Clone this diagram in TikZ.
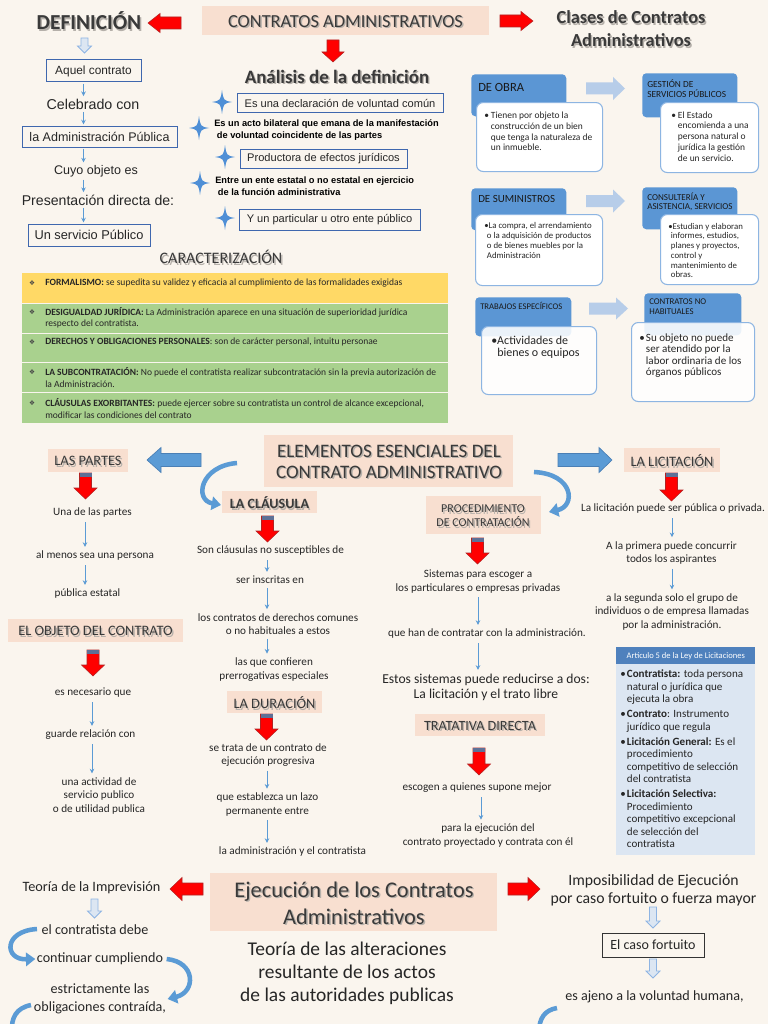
\documentclass[tikz,border=0pt]{standalone}
\usepackage{fontspec}
\setmainfont{Carlito}
\newfontfamily\arialf{Liberation Sans}
\newfontfamily\djv{DejaVu Sans}
\usetikzlibrary{arrows.meta}
\definecolor{bg}{HTML}{FAF5EE}
\definecolor{peach}{HTML}{F8DFD0}
\definecolor{redA}{HTML}{FF0000}
\definecolor{redB}{HTML}{B22222}
\definecolor{band}{HTML}{5E7096}
\definecolor{bigblue}{HTML}{5B9BD5}
\definecolor{bigblueD}{HTML}{4A7FB5}
\definecolor{thinblue}{HTML}{5B9BD5}
\definecolor{paleblue}{HTML}{DCE6F2}
\definecolor{paleblueD}{HTML}{8EB4E3}
\definecolor{lightarrc}{HTML}{B7CDE9}
\definecolor{tabblue}{HTML}{5B96D4}
\definecolor{boxline}{HTML}{8DB5E2}
\definecolor{defline}{HTML}{3F67AE}
\definecolor{yellowrow}{HTML}{FFD966}
\definecolor{greenrow}{HTML}{A9D18E}
\definecolor{arthead}{HTML}{4F81BD}
\definecolor{artbody}{HTML}{DCE6F2}
\definecolor{ink}{HTML}{262626}
\definecolor{shd}{HTML}{B5B0AA}
\definecolor{titleink}{HTML}{3A3A3A}
\definecolor{starblue}{HTML}{4F8FD6}
\newcommand\fs[2]{\fontsize{#1}{#2}\selectfont}
\newcommand\shtext[4]{%
  \node[#3, text=shd] at ([shift={(1.4,1.4)}]#2) {#4};
  \node[#3] (#1) at (#2) {#4};}
\newcommand\blockdown[7]{\filldraw[#1] (#2-#5,#3) -- (#2+#5,#3) -- (#2+#5,#4-#7) -- (#2+#6,#4-#7) -- (#2,#4) -- (#2-#6,#4-#7) -- (#2-#5,#4-#7) -- cycle;}
\newcommand\blockright[7]{\filldraw[#1] (#2,#4-#5) -- (#3-#7,#4-#5) -- (#3-#7,#4-#6) -- (#3,#4) -- (#3-#7,#4+#6) -- (#3-#7,#4+#5) -- (#2,#4+#5) -- cycle;}
\newcommand\blockleft[7]{\filldraw[#1] (#2,#4-#5) -- (#3+#7,#4-#5) -- (#3+#7,#4-#6) -- (#3,#4) -- (#3+#7,#4+#6) -- (#3+#7,#4+#5) -- (#2,#4+#5) -- cycle;}
\newcommand\rdarrow[3]{\blockdown{redarr}{#1}{#2}{#3}{6}{11.5}{11}\fill[band] (#1-6,#2) rectangle (#1+6,#2+4);}
\newcommand\hollowdown[3]{\blockdown{hollowarr}{#1}{#2}{#3}{3.5}{7}{7}}
\newcommand\fstar[2]{\fill[starblue] (#1,#2-12) .. controls (#1+1.5,#2-1.5) .. (#1+10,#2) .. controls (#1+1.5,#2+1.5) .. (#1,#2+12) .. controls (#1-1.5,#2+1.5) .. (#1-10,#2) .. controls (#1-1.5,#2-1.5) .. (#1,#2-12) -- cycle;}
\newcommand\bu{\makebox[5pt][l]{•}}
\newcommand\ind{\hspace*{5pt}}
\tikzset{
  x=0.75pt, y=-0.75pt,
  txt/.style={font=\fs{8.4}{10.1}, text=ink, align=center, inner sep=1pt},
  ttl/.style={text=titleink, align=center, inner sep=0pt},
  thinarr/.style={draw=thinblue, line width=0.6pt, -{Stealth[length=3.5pt,width=3.4pt]}, shorten <=2pt, shorten >=2pt},
  pbox/.style={fill=peach, inner sep=0pt},
  defbox/.style={draw=defline, line width=0.75pt, inner sep=0pt, text=ink},
  deftxt/.style={text=ink, inner sep=1pt},
  boldtxt/.style={font=\arialf\bfseries\fs{6.95}{9}, align=left, text=black, inner sep=0pt, anchor=west},
  tabbox/.style={fill=tabblue, rounded corners=3pt, inner sep=0pt, anchor=north west},
  wbox/.style={fill=white, draw=boxline, line width=0.8pt, rounded corners=5pt, inner sep=0pt, anchor=north west},
  tabtxt/.style={text=black!90, align=left, inner sep=0pt, anchor=west},
  bultxt/.style={text=ink, align=left, inner sep=0pt, anchor=west},
  tabrow/.style={inner sep=0pt, anchor=north west, minimum width=319.5pt},
  rowtxt/.style={font=\fs{7.15}{8.6}, align=left, anchor=west, text=ink, inner sep=0pt},
  rowbul/.style={font=\djv\fs{5}{6}, text=ink!85, inner sep=0pt},
  redarr/.style={fill=redA, draw=redB, line width=0.4pt},
  hollowarr/.style={fill=paleblue, draw=paleblueD, line width=0.6pt},
  bigarr/.style={fill=bigblue, draw=bigblueD, line width=0.5pt},
  lightarr/.style={fill=lightarrc, draw=none},
  curvarr/.style={draw=bigblue, line width=3.4pt, -{Triangle[length=7pt,width=10pt]}},
  curvend/.style={draw=bigblue, line width=3.4pt},
}
\begin{document}
\begin{tikzpicture}
\useasboundingbox (0,0) rectangle (768,1024);
\fill[bg] (0,0) rectangle (768,1024);
\clip (0,0) rectangle (768,1024);

% ================= TOP =================
\shtext{defn}{89,21}{ttl, font=\fs{16}{18}\bfseries}{DEFINICIÓN}
\blockleft{redarr}{181}{148}{23}{6}{9.5}{12}
\node[pbox, minimum width=215.25pt, minimum height=21.75pt] (cabox) at (345.5,20.5) {};
\shtext{catitle}{345.5,21.5}{ttl, font=\fs{13.8}{16}}{CONTRATOS ADMINISTRATIVOS}
\blockright{redarr}{500}{533}{21}{6}{9.5}{12}
\shtext{clases}{631,29}{ttl, font=\fs{13.8}{17.2}\bfseries}{Clases de Contratos\\Administrativos}
\blockdown{redarr}{333}{40}{62}{6}{11}{10}
\shtext{analisis}{337,77}{ttl, font=\fs{14.2}{16}\bfseries}{Análisis de la definición}

% ---- Definición column
\hollowdown{84.5}{38}{53}
\node[defbox, font=\arialf\fs{8.9}{10}, minimum width=71.25pt, minimum height=16.5pt] (aquel) at (93.5,71) {Aquel contrato};
\node[deftxt, font=\arialf\fs{10.7}{12}] (celeb) at (93,104) {Celebrado con};
\node[defbox, font=\arialf\fs{9.4}{11}, minimum width=116.25pt, minimum height=15.75pt] (admin) at (99.5,136.5) {la Administración Pública};
\node[deftxt, font=\arialf\fs{9.4}{11}] (cuyo) at (96,171) {Cuyo objeto es};
\node[deftxt, font=\arialf\fs{10.6}{12}] (present) at (98,200) {Presentación directa de:};
\node[defbox, font=\arialf\fs{9.6}{11}, minimum width=91.5pt, minimum height=16.5pt] (servicio) at (89,235) {Un servicio Público};
\coordinate (dcol) at (83.5,0);
\foreach \a/\b in {aquel/celeb, celeb/admin, admin/cuyo, cuyo/present, present/servicio}
  \draw[thinarr, shorten <=0.8pt, shorten >=0.8pt] (dcol |- \a.south) -- (dcol |- \b.north);

% ---- Análisis column
\fstar{222}{102}
\fstar{199}{128}
\fstar{225}{157}
\fstar{200}{183}
\fstar{225}{218}
\node[defbox, font=\arialf\fs{8.3}{10}, minimum width=154.5pt, minimum height=13.5pt] (an1) at (340,103) {Es una declaración de voluntad común};
\node[boldtxt] (an2) at (214,130) {Es un acto bilateral que emana de la manifestación\\\hspace*{2pt}de voluntad coincidente de las partes};
\node[defbox, font=\arialf\fs{8.3}{10}, minimum width=125.25pt, minimum height=14.25pt] (an3) at (323.5,158.5) {Productora de efectos jurídicos};
\node[boldtxt] (an4) at (215,186.5) {Entre un ente estatal o no estatal en ejercicio\\\hspace*{2pt}de la función administrativa};
\node[defbox, font=\arialf\fs{8.3}{10}, minimum width=135.75pt, minimum height=15.75pt] (an5) at (329.5,219.5) {Y un particular u otro ente público};

% ---- Clases (SmartArt)
\node[tabbox, minimum width=71.25pt, minimum height=31.5pt] (obraTab) at (471,74) {};
\node[wbox, minimum width=94.5pt, minimum height=51.75pt] (obraBox) at (476,102) {};
\node[tabtxt, font=\fs{9.4}{10}] (obraT) at (478,87) {DE OBRA};
\node[bultxt, font=\fs{7.1}{8}] (obraX) at (484,131.5) {\bu Tienen por objeto la\\\ind construcción de un bien\\\ind que tenga la naturaleza de\\\ind un inmueble.};
\blockright{lightarr}{586}{625}{88.5}{6}{11.5}{12}

\node[tabbox, minimum width=71.25pt, minimum height=33pt] (gesTab) at (642,73) {};
\node[wbox, minimum width=73.5pt, minimum height=52.5pt] (gesBox) at (660,102) {};
\node[tabtxt, font=\fs{7}{7.6}] (gesT) at (647,89) {GESTIÓN DE\\SERVICIOS PÚBLICOS};
\node[bultxt, font=\fs{7.1}{8.1}] (gesX) at (671,136.5) {\bu El Estado\\\ind encomienda a una\\\ind persona natural o\\\ind jurídica la gestión\\\ind de un servicio.};

\node[tabbox, minimum width=71.25pt, minimum height=31.5pt] (sumTab) at (471,188) {};
\node[wbox, minimum width=95.25pt, minimum height=53.25pt] (sumBox) at (475,214) {};
\node[tabtxt, font=\fs{8.2}{9}] (sumT) at (478,199) {DE SUMINISTROS};
\node[bultxt, font=\fs{6.6}{7.3}] (sumX) at (484,240.5) {•La compra, el arrendamiento\\\hspace*{2pt}o la adquisición de productos\\\hspace*{2pt}o de bienes muebles por la\\\hspace*{2pt}Administración};
\blockright{lightarr}{586}{625}{201}{6}{11.5}{12}

\node[tabbox, minimum width=71.25pt, minimum height=31.5pt] (conTab) at (642,187) {};
\node[wbox, minimum width=73.5pt, minimum height=52.5pt] (conBox) at (660,214) {};
\node[tabtxt, font=\fs{6.8}{6.9}] (conT) at (647,201.5) {CONSULTERÍA Y\\ASISTENCIA, SERVICIOS};
\node[bultxt, font=\fs{6.6}{7.3}] (conX) at (668,250.5) {•Estudian y elaboran\\\hspace*{2pt}informes, estudios,\\\hspace*{2pt}planes y proyectos,\\\hspace*{2pt}control y\\\hspace*{2pt}mantenimiento de\\\hspace*{2pt}obras.};

\node[tabbox, minimum width=72pt, minimum height=29.25pt] (traTab) at (475,297) {};
\node[wbox, fill opacity=0.88, text opacity=1, minimum width=86.25pt, minimum height=51pt] (traBox) at (481,326) {};
\node[tabtxt, font=\fs{6.5}{7}] (traT) at (480,306) {TRABAJOS ESPECÍFICOS};
\node[bultxt, font=\fs{9}{9}] (traX) at (491,347) {•Actividades de\\\hspace*{4.5pt}bienes o equipos};
\blockright{lightarr}{589}{628}{308.5}{6}{11}{12}

\node[tabbox, minimum width=72.75pt, minimum height=31.5pt] (habTab) at (644,293) {};
\node[wbox, fill opacity=0.88, text opacity=1, minimum width=92.25pt, minimum height=59.25pt] (habBox) at (631,322) {};
\node[tabtxt, font=\fs{6.6}{7.5}] (habT) at (649,307) {CONTRATOS NO\\HABITUALES};
\node[bultxt, font=\fs{8.3}{8.6}] (habX) at (639,355.5) {\bu Su objeto no puede\\\ind ser atendido por la\\\ind labor ordinaria de los\\\ind órganos públicos};

% ---- Caracterización
\shtext{carac}{221,257}{ttl, font=\fs{12}{14}}{CARACTERIZACIÓN}
\node[tabrow, fill=yellowrow, minimum height=22.5pt] (r1) at (22,273) {};
\node[tabrow, fill=greenrow, minimum height=21.75pt] (r2) at (22,304) {};
\node[tabrow, fill=greenrow, minimum height=21pt] (r3) at (22,334) {};
\node[tabrow, fill=greenrow, minimum height=21.75pt] (r4) at (22,363) {};
\node[tabrow, fill=greenrow, minimum height=22.5pt] (r5) at (22,393) {};
\node[rowbul] (r1b) at (32,283) {❖};
\node[rowtxt] (r1t) at (45,283) {\textbf{FORMALISMO:} se supedita su validez y eficacia al cumplimiento de las formalidades exigidas};
\node[rowbul] (r2b) at (32,312) {❖};
\node[rowtxt] (r2t) at (45,317.5) {\textbf{DESIGUALDAD JURÍDICA:} La Administración aparece en una situación de superioridad jurídica\\respecto del contratista.};
\node[rowbul] (r3b) at (32,342) {❖};
\node[rowtxt] (r3t) at (45,342) {\textbf{DERECHOS Y OBLIGACIONES PERSONALES}: son de carácter personal, intuitu personae};
\node[rowbul] (r4b) at (32,372) {❖};
\node[rowtxt] (r4t) at (45,377.5) {\textbf{LA SUBCONTRATACIÓN:} No puede el contratista realizar subcontratación sin la previa autorización de\\la Administración.};
\node[rowbul] (r5b) at (32,403) {❖};
\node[rowtxt] (r5t) at (45,408.5) {\textbf{CLÁUSULAS EXORBITANTES:} puede ejercer sobre su contratista un control de alcance excepcional,\\modificar las condiciones del contrato};

% ================= ELEMENTOS =================
\node[pbox, minimum width=186.75pt, minimum height=39pt] (elemBox) at (388.5,461) {};
\shtext{elem}{389,461.5}{ttl, font=\fs{14.3}{15.8}}{ELEMENTOS ESENCIALES DEL\\CONTRATO ADMINISTRATIVO}
\blockleft{bigarr}{201}{147}{460}{6.5}{12.5}{14}
\blockright{bigarr}{558}{612}{460}{6.5}{12.5}{13}
\draw[curvarr] (237,463) .. controls (200,466) and (194,500) .. (221,505);
\draw[curvarr] (534,472) .. controls (574,474) and (576,506) .. (549,512);

% ---- Las partes
\node[pbox, minimum width=60pt, minimum height=17.25pt] (partes) at (88,460) {};
\shtext{partesT}{88,461}{ttl, font=\fs{10.8}{12}}{LAS PARTES}
\rdarrow{85.5}{473}{499}
\node[txt] (p1) at (92.5,513) {Una de las partes};
\node[txt] (p2) at (95,556) {al menos sea una persona};
\node[txt] (p3) at (87.5,594) {pública estatal};
\coordinate (colA) at (85,0);
\draw[thinarr] (colA |- p1.south) -- (colA |- p2.north);
\draw[thinarr] (colA |- p2.south) -- (colA |- p3.north);

% ---- Objeto
\node[pbox, minimum width=131.25pt, minimum height=17.25pt] (objeto) at (95.5,630) {};
\shtext{objetoT}{95.5,631}{ttl, font=\fs{10.8}{12}}{EL OBJETO DEL CONTRATO}
\rdarrow{93}{650}{676}
\node[txt] (o1) at (93,693) {es necesario que};
\node[txt] (o2) at (90.5,735) {guarde relación con};
\node[txt] (o3) at (99,796) {una actividad de\\servicio publico\\o de utilidad publica};
\coordinate (colB) at (92,0);
\draw[thinarr] (colB |- o1.south) -- (colB |- o2.north);
\draw[thinarr] (colB |- o2.south) -- (colB |- o3.north);

% ---- Cláusula
\node[pbox, minimum width=71.25pt, minimum height=16.5pt] (clau) at (269.5,502) {};
\shtext{clauT}{269.5,503}{ttl, font=\fs{10.6}{12}\bfseries}{LA CLÁUSULA}
\rdarrow{267.5}{516}{542}
\node[txt] (c1) at (270.5,551) {Son cláusulas no susceptibles de};
\node[txt] (c2) at (270,580) {ser inscritas en};
\node[txt] (c3) at (278,624) {los contratos de derechos comunes\\o no habituales a estos};
\node[txt] (c4) at (274,669.5) {las que confieren\\prerrogativas especiales};
\coordinate (colC) at (267,0);
\draw[thinarr] (colC |- c1.south) -- (colC |- c2.north);
\draw[thinarr] (colC |- c2.south) -- (colC |- c3.north);
\draw[thinarr] (colC |- c3.south) -- (colC |- c4.north);

% ---- Duración
\node[pbox, minimum width=71.25pt, minimum height=16.5pt] (dura) at (274.5,702) {};
\shtext{duraT}{274.5,703}{ttl, font=\fs{10.8}{12}}{LA DURACIÓN}
\rdarrow{266.5}{714}{740}
\node[txt] (d1) at (268,755) {se trata de un contrato de\\ejecución progresiva};
\node[txt] (d2) at (267.5,804.5) {que establezca un lazo\\permanente entre};
\node[txt] (d3) at (292.5,852) {la administración y el contratista};
\draw[thinarr] (colC |- d1.south) -- (colC |- d2.north);
\draw[thinarr] (colC |- d2.south) -- (colC |- d3.north);

% ---- Procedimiento
\node[pbox, minimum width=86.25pt, minimum height=28.5pt] (proc) at (483,515) {};
\shtext{procT}{483,516}{ttl, font=\fs{9}{10.5}}{PROCEDIMIENTO\\DE CONTRATACIÓN}
\rdarrow{477.5}{538}{564}
\node[txt] (s1) at (478,581.5) {Sistemas para escoger a\\los particulares o empresas privadas};
\node[txt] (s2) at (487,634) {que han de contratar con la administración.};
\node[txt, font=\fs{10.2}{11.3}] (s3) at (486,687.5) {Estos sistemas puede reducirse a dos:\\La licitación y el trato libre};
\coordinate (colD) at (478,0);
\draw[thinarr] (colD |- s1.south) -- (colD |- s2.north);
\draw[thinarr] (colD |- s2.south) -- (colD |- s3.north);

% ---- Tratativa
\node[pbox, minimum width=97.5pt, minimum height=16.5pt] (trat) at (480,724.5) {};
\shtext{tratT}{480,725.5}{ttl, font=\fs{10.6}{12}}{TRATATIVA DIRECTA}
\rdarrow{479}{748}{775}
\node[txt] (t1) at (477,788) {escogen a quienes supone mejor};
\node[txt] (t2) at (488,835.5) {para la ejecución del\\contrato proyectado y contrata con él};
\coordinate (colE) at (481,0);
\draw[thinarr] (colE |- t1.south) -- (colE |- t2.north);

% ---- Licitación
\node[pbox, minimum width=72pt, minimum height=18pt] (lici) at (672,460) {};
\shtext{liciT}{672,461}{ttl, font=\fs{10.8}{12}}{LA LICITACIÓN}
\rdarrow{671.5}{473}{501}
\node[txt] (l1) at (673,509) {La licitación puede ser pública o privada.};
\node[txt] (l2) at (671.5,553) {A la primera puede concurrir\\todos los aspirantes};
\node[txt] (l3) at (672,612) {a la segunda solo el grupo de\\individuos o de empresa llamadas\\por la administración.};
\coordinate (colF) at (672,0);
\draw[thinarr] (colF |- l1.south) -- (colF |- l2.north);
\draw[thinarr] (colF |- l2.south) -- (colF |- l3.north);

% ---- Artículo 5
\node[anchor=north west, fill=arthead, minimum width=104.25pt, minimum height=12.75pt, inner sep=0pt] (arth) at (616,647) {};
\node[font=\fs{6.4}{7}, text=white, inner sep=0pt] (artht) at (arth.center) {Artículo 5 de la Ley de Licitaciones};
\node[anchor=north west, fill=artbody, minimum width=104.25pt, minimum height=143.25pt, inner sep=0pt] (artb) at (616,664) {};
\node[bultxt, font=\fs{8.3}{9.45}] (artt) at (620,759) {\bu\textbf{Contratista:} toda persona\\\ind natural o jurídica que\\\ind ejecuta la obra\\[1.6pt]\bu\textbf{Contrato}: Instrumento\\\ind jurídico que regula\\[1.6pt]\bu\textbf{Licitación General:} Es el\\\ind procedimiento\\\ind competitivo de selección\\\ind del contratista\\[1.6pt]\bu\textbf{Licitación Selectiva:}\\\ind Procedimiento\\\ind competitivo excepcional\\\ind de selección del\\\ind contratista};

% ================= EJECUCIÓN =================
\node[pbox, minimum width=215.25pt, minimum height=43.5pt] (ejec) at (353.5,901.5) {};
\shtext{ejecT}{354,903}{ttl, font=\fs{16.8}{20.5}}{Ejecución de los Contratos\\Administrativos}
\blockleft{redarr}{203}{170}{889}{6}{11.5}{12}
\blockright{redarr}{508}{540}{889}{6}{11.5}{12}
\node[txt, font=\fs{10.7}{12}] (teo) at (91.5,888) {Teoría de la Imprevisión};
\hollowdown{94.5}{899}{918}
\node[txt, font=\fs{10.6}{12}] (b1) at (95,930) {el contratista debe};
\node[txt, font=\fs{10.6}{12}] (b2) at (100,959) {continuar cumpliendo};
\node[txt, font=\fs{10.6}{13.5}] (b3) at (100,999) {estrictamente las\\obligaciones contraída,};
\draw[curvarr] (b1.west) ++(-3,-1) .. controls (3,931) and (4,960) .. (b2.west);
\draw[curvarr] (b2.east) ++(2,0) .. controls (196,962) and (196,992) .. (b3.east);
\draw[curvend] (31,1005) .. controls (16,1008) and (11,1018) .. (12,1032);
\node[txt, font=\fs{14.6}{17.3}] (alt) at (347,973) {Teoría de las alteraciones\\resultante de los actos\\de las autoridades publicas};
\node[txt, font=\fs{11.8}{13.5}] (impo) at (653.5,890) {Imposibilidad de Ejecución\\por caso fortuito o fuerza mayor};
\hollowdown{653}{907}{928}
\node[draw=black!80, line width=0.6pt, font=\fs{10.5}{12}, text=ink, minimum width=76.5pt, minimum height=18pt, inner sep=0pt] (caso) at (653,945) {El caso fortuito};
\hollowdown{653}{959}{978}
\node[txt, font=\fs{10.6}{12}] (ajeno) at (654.5,997) {es ajeno a la voluntad humana,};
\draw[curvend] (557,1008) .. controls (545,1010) and (539,1018) .. (539,1032);
\end{tikzpicture}
\end{document}
